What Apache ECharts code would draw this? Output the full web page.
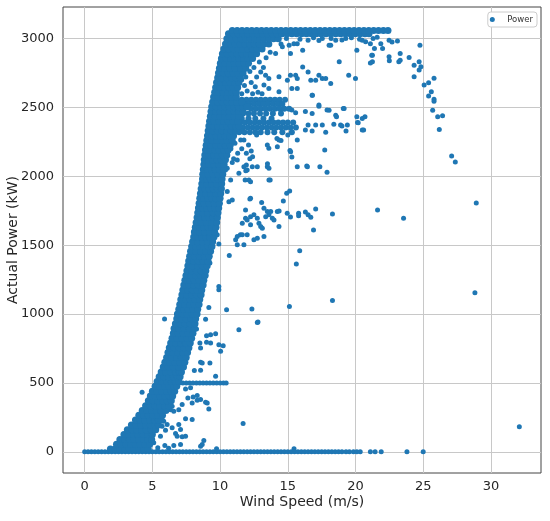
<!DOCTYPE html>
<html>
<head>
<meta charset="utf-8">
<script src="https://cdn.jsdelivr.net/npm/echarts@6/dist/echarts.min.js"></script>
<style>
html,body{margin:0;padding:0;background:#fff;}
#chart{width:550px;height:521px;}
</style>
</head>
<body>
<div id="chart"></div>
<script>
// ---- tick labels ----
const xTicks = [0, 5, 10, 15, 20, 25, 30];
const yTicks = [0, 500, 1000, 1500, 2000, 2500, 3000];

// ---- readings lying on the 0 kW line (wind speeds) ----
const zeroLineWind = [0,0.25,0.5,0.75,1.0,1.25,1.5,1.75,2.0,2.25,2.5,2.75,3.0,3.25,3.5,3.75,4.0,4.25,4.5,4.75,5.0,5.25,5.5,5.75,6.0,6.25,6.5,6.75,7.0,7.25,7.5,7.75,8.0,8.25,8.5,8.75,9.0,9.25,9.5,9.75,10.0,10.25,10.5,10.75,11.0,11.25,11.5,11.75,12.0,12.25,12.5,12.75,13.0,13.25,13.5,13.75,14.0,14.25,14.5,14.75,15.0,15.25,15.5,15.75,16.0,16.25,16.5,16.75,17.0,17.25,17.5,17.75,18.0,18.25,18.5,18.75,19.0,19.3,19.55,19.85,20.1,20.35,21.1,21.45,21.9,23.8,25.0];

// ---- the 500 kW shelf (wind speeds) ----
const shelfPower = 500;
const shelfWind = [7.0,7.25,7.5,7.75,8.0,8.25,8.5,8.75,9.0,9.25,9.5,9.75,10.0,10.25,10.45];

// ---- dense power-curve band, rows: [power, wind speeds...] ----
const curveRows = [
[20,1.9,2.25,2.6,2.95,3.3,3.65,4.0,4.35,4.7],
[55,2.35,2.7,3.05,3.4,3.75,4.1,4.45,4.8],
[90,2.6,2.95,3.3,3.65,4.0,4.35,4.65,4.95],
[125,2.9,3.25,3.6,3.95,4.3,4.65,5.0],
[160,3.15,3.5,3.85,4.2,4.55,4.9,5.25],
[195,3.45,3.8,4.15,4.5,4.85,5.2,5.45],
[230,3.75,4.1,4.45,4.8,5.15,5.45,5.65],
[265,4.0,4.35,4.7,5.05,5.4,5.75],
[300,4.25,4.6,4.95,5.3,5.65,6.0],
[335,4.5,4.85,5.2,5.55,5.9,6.2],
[370,4.7,5.05,5.4,5.75,6.1,6.4],
[405,4.85,5.2,5.55,5.9,6.25,6.5],
[440,5.0,5.35,5.7,6.05,6.4,6.65],
[475,5.2,5.55,5.9,6.25,6.6,6.8],
[510,5.35,5.7,6.05,6.4,6.7,6.95],
[545,5.5,5.85,6.2,6.55,6.85,7.05],
[580,5.65,6.0,6.35,6.7,7.0,7.15],
[615,5.8,6.18,6.55,6.93,7.3],
[650,5.92,6.29,6.66,7.03,7.4],
[685,6.05,6.41,6.78,7.14,7.5],
[720,6.15,6.51,6.88,7.24,7.6],
[755,6.25,6.61,6.98,7.34,7.7],
[790,6.35,6.71,7.08,7.44,7.8],
[825,6.45,6.81,7.18,7.54,7.9],
[860,6.55,6.91,7.28,7.64,8.0],
[895,6.6,6.98,7.35,7.73,8.1],
[930,6.7,7.06,7.42,7.79,8.15],
[965,6.8,7.15,7.5,7.85,8.2],
[1000,6.85,7.21,7.57,7.94,8.3],
[1035,6.95,7.3,7.65,8.0,8.35],
[1070,7.02,7.38,7.74,8.09,8.45],
[1105,7.1,7.45,7.8,8.15,8.5],
[1140,7.18,7.54,7.89,8.25,8.6],
[1175,7.25,7.6,7.95,8.3,8.65],
[1210,7.32,7.68,8.04,8.39,8.75],
[1245,7.4,7.75,8.1,8.45,8.8],
[1280,7.48,7.84,8.19,8.55,8.9],
[1315,7.55,7.9,8.25,8.6,8.95],
[1350,7.62,7.98,8.34,8.69,9.05],
[1385,7.68,8.04,8.39,8.75,9.1],
[1420,7.75,8.11,8.48,8.84,9.2],
[1455,7.82,8.19,8.56,8.93,9.3],
[1490,7.9,8.2,8.5,8.8,9.1,9.4],
[1525,7.97,8.34,8.71,9.08,9.45],
[1560,8.05,8.35,8.65,8.95,9.25,9.55],
[1595,8.1,8.48,8.85,9.23,9.6],
[1630,8.17,8.48,8.78,9.09,9.39,9.7],
[1665,8.23,8.61,8.99,9.37,9.75],
[1700,8.3,8.6,8.9,9.2,9.5,9.8],
[1735,8.35,8.73,9.1,9.48,9.85],
[1770,8.4,8.7,9.0,9.3,9.6,9.9],
[1805,8.45,8.83,9.2,9.58,9.95],
[1840,8.5,8.8,9.1,9.4,9.7,10.0],
[1875,8.55,8.93,9.3,9.68,10.05],
[1910,8.6,8.9,9.2,9.5,9.8,10.1],
[1945,8.65,9.02,9.39,9.75,10.12],
[1980,8.7,9.0,9.29,9.57,9.86,10.15],
[2015,8.72,9.09,9.46,9.83,10.2],
[2050,8.76,9.06,9.36,9.65,9.95,10.25],
[2085,8.8,9.18,9.55,9.93,10.3],
[2120,8.83,9.14,9.46,9.77,10.09,10.4],
[2155,8.87,9.2,9.52,9.85,10.17,10.5],
[2190,8.92,9.26,9.6,9.92,10.26,10.6],
[2225,8.97,9.33,9.68,10.04,10.39,10.75],
[2260,9.02,9.4,9.77,10.15,10.52,10.9],
[2295,9.07,9.4,9.72,10.05,10.37,10.7,11.0],
[2330,9.12,9.46,9.8,10.14,10.48,10.82,11.16,11.5],
[2365,9.17,9.5,9.84,10.18,10.5,10.84,11.17,11.4],
[2400,9.22,9.57,9.92,10.26,10.61,10.96,11.3],
[2435,9.28,9.63,9.99,10.34,10.69,11.05,11.4],
[2470,9.33,9.67,10.0,10.35,10.68,11.02,11.36,11.7],
[2505,9.38,9.71,10.04,10.36,10.69,11.02,11.35,11.67,12.0],
[2540,9.45,9.81,10.17,10.53,10.88,11.24,11.6],
[2575,9.52,9.86,10.2,10.53,10.87,11.2],
[2610,9.6,9.92,10.24,10.56,10.88,11.2],
[2645,9.67,10.0,10.32,10.65,10.97,11.3],
[2680,9.74,10.07,10.4,10.74,11.07,11.4],
[2715,9.82,10.16,10.5,10.84,11.17,11.5],
[2750,9.88,10.24,10.6,10.97,11.33,11.7],
[2785,9.95,10.34,10.73,11.12,11.51,11.9],
[2820,10.02,10.37,10.71,11.06,11.41,11.75,12.1],
[2855,10.1,10.43,10.77,11.1,11.4,11.73,12.06,12.4],
[2890,10.17,10.53,10.89,11.26,11.62,11.98,12.34,12.7],
[2925,10.27,10.62,10.98,11.33,11.69,12.04,12.39,12.75,13.1],
[2960,10.4,10.76,11.11,11.47,11.82,12.18,12.53,12.89,13.24,13.6],
[2998,10.5,10.85,11.19,11.54,11.88,12.23,12.57,12.92,13.26,13.61,13.95,14.3],
[3035,10.62,10.98,11.34,11.7,12.06,12.42,12.78,13.14,13.5,13.86,14.22,14.58,14.94,15.3,15.66,16.02,16.38,16.74,17.1,17.46,17.82,18.18,18.54,18.9,19.26,19.62,19.98,20.34,20.7,21.0],
[3058,10.9,11.26,11.62,11.98,12.34,12.7,13.06,13.42,13.78,14.14,14.5,14.86,15.22,15.58,15.94,16.3,16.66,17.02,17.38,17.74,18.1,18.46,18.82,19.18,19.54,19.9,20.26,20.62,20.98,21.34,21.7,22.06,22.4]
];

// ---- horizontal derating stripes, rows: [power, wind speeds...] ----
const stripeRows = [
[2555,11.6,11.95,12.3,12.65,13.0,13.35,13.7,14.05,14.4,14.8],
[2525,11.8,12.15,12.5,12.85,13.2,13.55,13.9,14.25,14.6],
[2490,12.3,12.65,13.0,13.35,13.7,14.05,14.4,14.75,15.1],
[2455,11.7,12.1,12.5,12.95,13.4,13.9,14.5],
[2420,11.6,12.1,12.6,13.2,13.8],
[2390,11.5,11.85,12.2,12.55,12.9,13.25,13.6,13.95,14.3,14.65,15.0,15.4],
[2355,11.7,12.05,12.4,12.75,13.1,13.45,13.8,14.15,14.5,14.85,15.2,15.6],
[2320,11.4,11.8,12.2,12.6,13.0,13.5,14.0,14.6,15.3]
];

// ---- scattered readings [wind speed, power] ----
const lowScatter = [
[5.9,964],[4.24,432],[8.26,891],[8.93,963],[9.0,843],[9.3,850],[9.67,857],[9.3,790],[9.0,795],[8.51,790],
[8.56,753],[9.91,777],[10.23,770],[10.04,729],[8.56,650],[8.68,645],[9.25,645],[8.1,590],[8.56,592],[11.39,886],
[12.75,939],[12.35,1036],[10.48,1031],[9.67,548],[11.7,205],[7.45,456],[7.82,464],[7.62,391],[8.01,398],[8.31,408],
[8.31,375],[8.56,379],[8.93,360],[9.05,355],[9.17,311],[7.94,355],[7.2,343],[6.46,331],[6.34,306],[6.58,295],
[6.95,306],[7.45,239],[7.94,234],[5.84,222],[6.09,198],[6.46,174],[6.95,198],[7.08,162],[5.97,157],[6.71,133],
[6.83,113],[7.2,109],[7.45,113],[5.72,186],[5.6,113],[5.1,65],[5.92,45],[6.58,45],[7.08,53],[8.56,41],
[8.68,53],[8.8,82],[9.74,22],[5.4,30],[6.2,25],[12.8,942],[9.17,1048],[15.46,22],[32.1,181]
];
const midScatter = [
[9.91,1200],[9.91,1176],[9.17,1393],[9.25,1370],[9.79,1575],[9.91,1509],[10.68,1425],[15.12,1055],[18.3,1099],[28.82,1154],
[15.63,1364],[15.88,1459],[16.9,1611],
[11.88,1695],[12.0,1683],[12.25,1707],[12.5,1720],[12.75,1695],[12.87,1659],[13.0,1635],[13.12,1623],[13.37,1707],[13.61,1720],
[13.74,1744],[13.86,1695],[13.98,1683],[14.23,1744],[14.35,1635],[12.25,1648],[11.64,1659],[11.5,1575],[11.27,1563],[11.15,1539],
[11.27,1503],[11.64,1575],[11.76,1503],[12.0,1575],[12.5,1539],[12.75,1551],[13.24,1563],[11.88,1756],[13.24,1768],[13.49,1744],
[14.96,1732],[14.67,1821],[13.07,1809],[12.25,1840],[14.36,1748],[15.2,1704],[15.8,1732],[15.8,1713],[16.3,1740],[16.5,1720],
[16.7,1703],[17.06,1763],[18.3,1727],[21.63,1756],[23.55,1695],[28.92,1807],[15.14,1893],[14.92,1877],
[10.65,1816],[10.9,1828],[10.53,1889],[10.78,1973],[11.39,2022],[12.13,1973],[12.25,1961],[12.0,2046],[12.38,2070],[12.75,2070],
[13.61,1973],[13.49,2070],[10.53,2058],[10.4,2046],[12.2,1835],[17.73,2191],[17.37,2070],[17.9,2029],[16.4,2075],[15.16,2188],
[15.3,2140],[13.6,2203],[13.7,1973],[13.5,2091],[12.2,2128],[12.3,2184],[11.85,1973],[11.9,2040],[11.3,2167],[11.0,2128],
[14.2,2275],[14.5,2259],[11.52,2263],[11.76,2263],[12.1,2227],[12.7,2299],[13.49,2227],[14.23,2215],[11.94,2167],[12.4,2142],
[11.27,2118],[11.76,2070],[11.94,2082],[13.61,2058],[15.21,2179],[16.45,2070],[15.7,2070],[10.8,2200],[11.1,2240],[10.9,2100],[11.6,2200]
];
const highScatter = [
[13.0,2758],[13.36,2734],[13.6,2710],[14.35,2722],[14.97,2698],[15.2,2734],[15.58,2734],[15.7,2710],[16.1,2794],[16.5,2758],
[16.7,2698],[17.06,2698],[17.3,2734],[17.55,2710],[17.8,2710],[18.17,2674],[18.8,2831],[19.5,2734],[20.0,2710],[20.1,2915],
[18.17,2951],[16.1,2915],[15.1,2951],[14.6,2940],[14.1,2891],[15.2,2891],[15.45,2963],[15.7,2963],[16.5,2988],[17.55,3000],
[18.54,2988],[19.28,3000],[20.5,2988],[20.75,2976],[21.25,2879],[21.25,2831],[21.1,2963],[13.24,2662],[13.6,2638],[14.35,2614],
[15.3,2638],[15.7,2638],[16.8,2589],[15.3,2481],[15.58,2462],[16.3,2470],[16.8,2455],[17.3,2517],[17.9,2481],[18.54,2444],
[19.16,2493],[20.1,2432],[20.5,2420],[16.5,2372],[17.06,2372],[17.55,2372],[18.4,2377],[18.9,2372],[19.4,2372],[20.15,2391],
[16.3,2336],[16.8,2329],[17.8,2319],[19.3,2329],[20.5,2336],[14.35,2263],[15.7,2263],[15.0,2299],
[21.1,2823],[21.2,2879],[21.4,2927],[22.0,2927],[18.05,2951],[19.1,2492],[20.7,2432],[20.2,2389],[20.6,2336],[19.0,2365],
[18.6,2432],[18.05,2480],[17.3,2509],[16.82,2589],
[11.6,2600],[12.0,2620],[12.4,2600],[12.8,2610],[11.8,2660],[12.3,2680],[11.9,2720],[12.6,2650],[13.1,2600],[11.6,2700],
[12.2,2760],[12.5,2790],[11.95,2800],[12.9,2830],[13.4,2860],[13.7,2900],[14.5,2960],[13.2,2790],[12.7,2720],
[14.9,3000],[15.9,2995],[16.9,3005],[17.3,2985],[18.2,3000],[19.0,2990],[19.7,3005],[20.3,2995],[21.3,3000],[21.6,3010],
[22.7,2975],[23.1,2983],[24.76,2951],[23.3,2891],[22.48,2867],[22.5,2838],[23.2,2831],[23.3,2843],[23.96,2862],[24.7,2831],
[24.33,2807],[24.83,2795],[24.7,2771],[24.33,2722],[25.07,2662],[25.4,2679],[25.8,2711],[25.6,2614],[25.4,2583],[25.8,2559],
[25.8,2545],[25.7,2480],[26.07,2432],[26.43,2440],[26.19,2340],[27.1,2147],[27.37,2104],[21.87,2963],[22.48,2988]
];

// ---- build point lists ----
const denseData = [];
curveRows.forEach(r => r.slice(1).forEach(w => denseData.push([w, r[0]])));
const stripeData = [];
stripeRows.forEach(r => r.slice(1).forEach(w => stripeData.push([w, r[0]])));
const sparseData = [];
zeroLineWind.forEach(w => sparseData.push([w, 0]));
shelfWind.forEach(w => sparseData.push([w, shelfPower]));
lowScatter.concat(midScatter, highScatter).forEach(p => sparseData.push(p));

const FONT = 'DejaVu Sans';
const BLUE = '#1f77b4';
const plain = v => String(v);
const chart = echarts.init(document.getElementById('chart'), null, {renderer: 'canvas'});
chart.setOption({
  animation: false,
  backgroundColor: '#fff',
  grid: {left: 63, right: 9, top: 7, bottom: 48, containLabel: false, outerBoundsMode: 'none',
         show: true, borderColor: '#444', borderWidth: 1, backgroundColor: 'transparent'},
  legend: {
    data: ['Power'], right: 13, top: 12, icon: 'circle',
    itemWidth: 20, itemHeight: 5, padding: [3, 4, 3, 2],
    borderColor: '#cccccc', borderWidth: 1, borderRadius: 3, backgroundColor: '#fff',
    textStyle: {fontFamily: FONT, fontSize: 8.5, color: '#333'}
  },
  xAxis: {
    type: 'value', min: -1.6, max: 33.7,
    name: 'Wind Speed (m/s)', nameLocation: 'middle', nameGap: 22, nameMoveOverlap: false,
    nameTextStyle: {fontFamily: FONT, fontSize: 14, color: '#262626'},
    axisLine: {show: false},
    axisTick: {show: false, customValues: xTicks},
    axisLabel: {customValues: xTicks, formatter: plain, fontFamily: FONT, fontSize: 13, color: '#262626', margin: 7},
    splitLine: {show: true, lineStyle: {color: '#c8c8c8', width: 1}}
  },
  yAxis: {
    type: 'value', min: -154, max: 3229,
    name: 'Actual Power (kW)', nameLocation: 'middle', nameGap: 43, nameRotate: 90, nameMoveOverlap: false,
    nameTextStyle: {fontFamily: FONT, fontSize: 14, color: '#262626'},
    axisLine: {show: false},
    axisTick: {show: false, customValues: yTicks},
    axisLabel: {customValues: yTicks, formatter: plain, fontFamily: FONT, fontSize: 13, color: '#262626', margin: 9},
    splitLine: {show: true, lineStyle: {color: '#c8c8c8', width: 1}}
  },
  series: [
    {name: 'Power', type: 'scatter', data: sparseData, symbol: 'circle', symbolSize: 5,
     itemStyle: {color: BLUE, opacity: 1}, emphasis: {disabled: true}},
    {name: 'Power', type: 'scatter', data: stripeData, symbol: 'circle', symbolSize: 6,
     itemStyle: {color: BLUE, opacity: 1}, emphasis: {disabled: true}},
    {name: 'Power', type: 'scatter', data: denseData, symbol: 'circle', symbolSize: 7,
     itemStyle: {color: BLUE, opacity: 1}, emphasis: {disabled: true}}
  ]
});
</script>
</body>
</html>
